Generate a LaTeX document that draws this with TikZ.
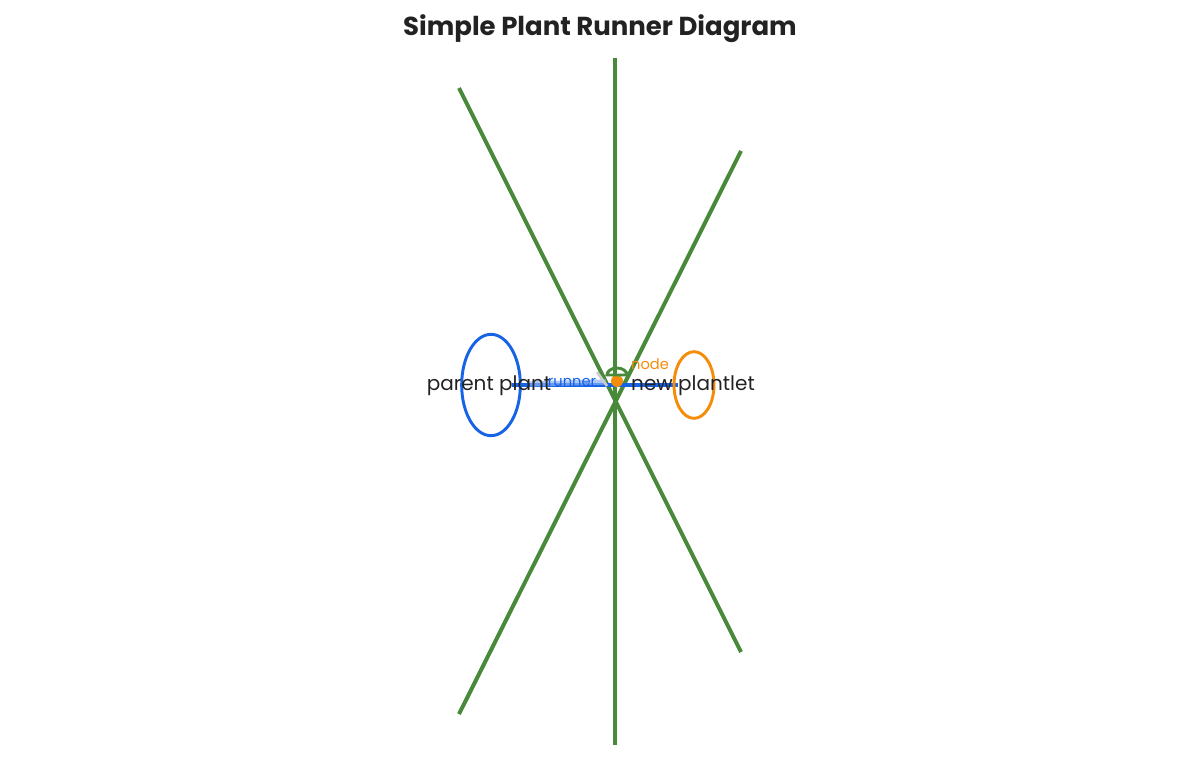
\documentclass[tikz,border=0pt]{standalone}
\usepackage{fontspec}
\setmainfont{Poppins}
\usetikzlibrary{shapes.geometric}
\begin{document}
\begin{tikzpicture}[x=0.75pt,y=-0.75pt,
  lbl/.style={font=\fontsize{15}{17}\selectfont\addfontfeature{Weight=Light}, text={rgb,255:red,34;green,34;blue,34}}]
\definecolor{stemg}{RGB}{72,138,58}
\definecolor{bl}{RGB}{22,99,230}
\definecolor{og}{RGB}{245,140,10}
\path[use as bounding box] (0,0) rectangle (1200,763);
\node[font=\fontsize{19.5}{22}\selectfont\bfseries, text={rgb,255:red,34;green,34;blue,34}] (title) at (600,29) {Simple Plant Runner Diagram};
% stems
\coordinate (v1) at (615,58); \coordinate (v2) at (615,745);
\coordinate (a1) at (459,88); \coordinate (a2) at (741,652);
\coordinate (b1) at (741,151); \coordinate (b2) at (459,714);
\draw[stemg, line width=3pt] (v1) -- (v2);
\draw[stemg, line width=3pt] (a1) -- (a2);
\draw[stemg, line width=3pt] (b1) -- (b2);
% runner
\coordinate (r1) at (512,385); \coordinate (r2) at (678,385);
\draw[bl, line width=3pt] (r1) -- (r2);
\draw[bl!50, line width=4pt, opacity=0.7] (530,384) -- (606,382);
\draw[gray!40, line width=2pt] (597,372) -- (607,386);
\node[draw=bl, line width=2.2pt, ellipse, minimum width=44, minimum height=76, inner sep=0] (parent) at (491,385) {};
\node[draw=og, line width=2.2pt, ellipse, minimum width=30, minimum height=50, inner sep=0] (plantlet) at (694,385) {};
\fill[og] (617,381) circle (6);
\draw[stemg, line width=2.2pt] (607,375) -- (627,375) arc (0:-180:10 and 7) -- cycle;
\node[lbl] (pt) at (489,386) {parent plant};
\node[lbl] (nt) at (693,386) {new plantlet};
\node[font=\fontsize{11}{13}\selectfont, text=bl] (rt) at (572,382) {runner};
\node[font=\fontsize{11}{13}\selectfont, text=og] (nd) at (650,364) {node};
\end{tikzpicture}
\end{document}
